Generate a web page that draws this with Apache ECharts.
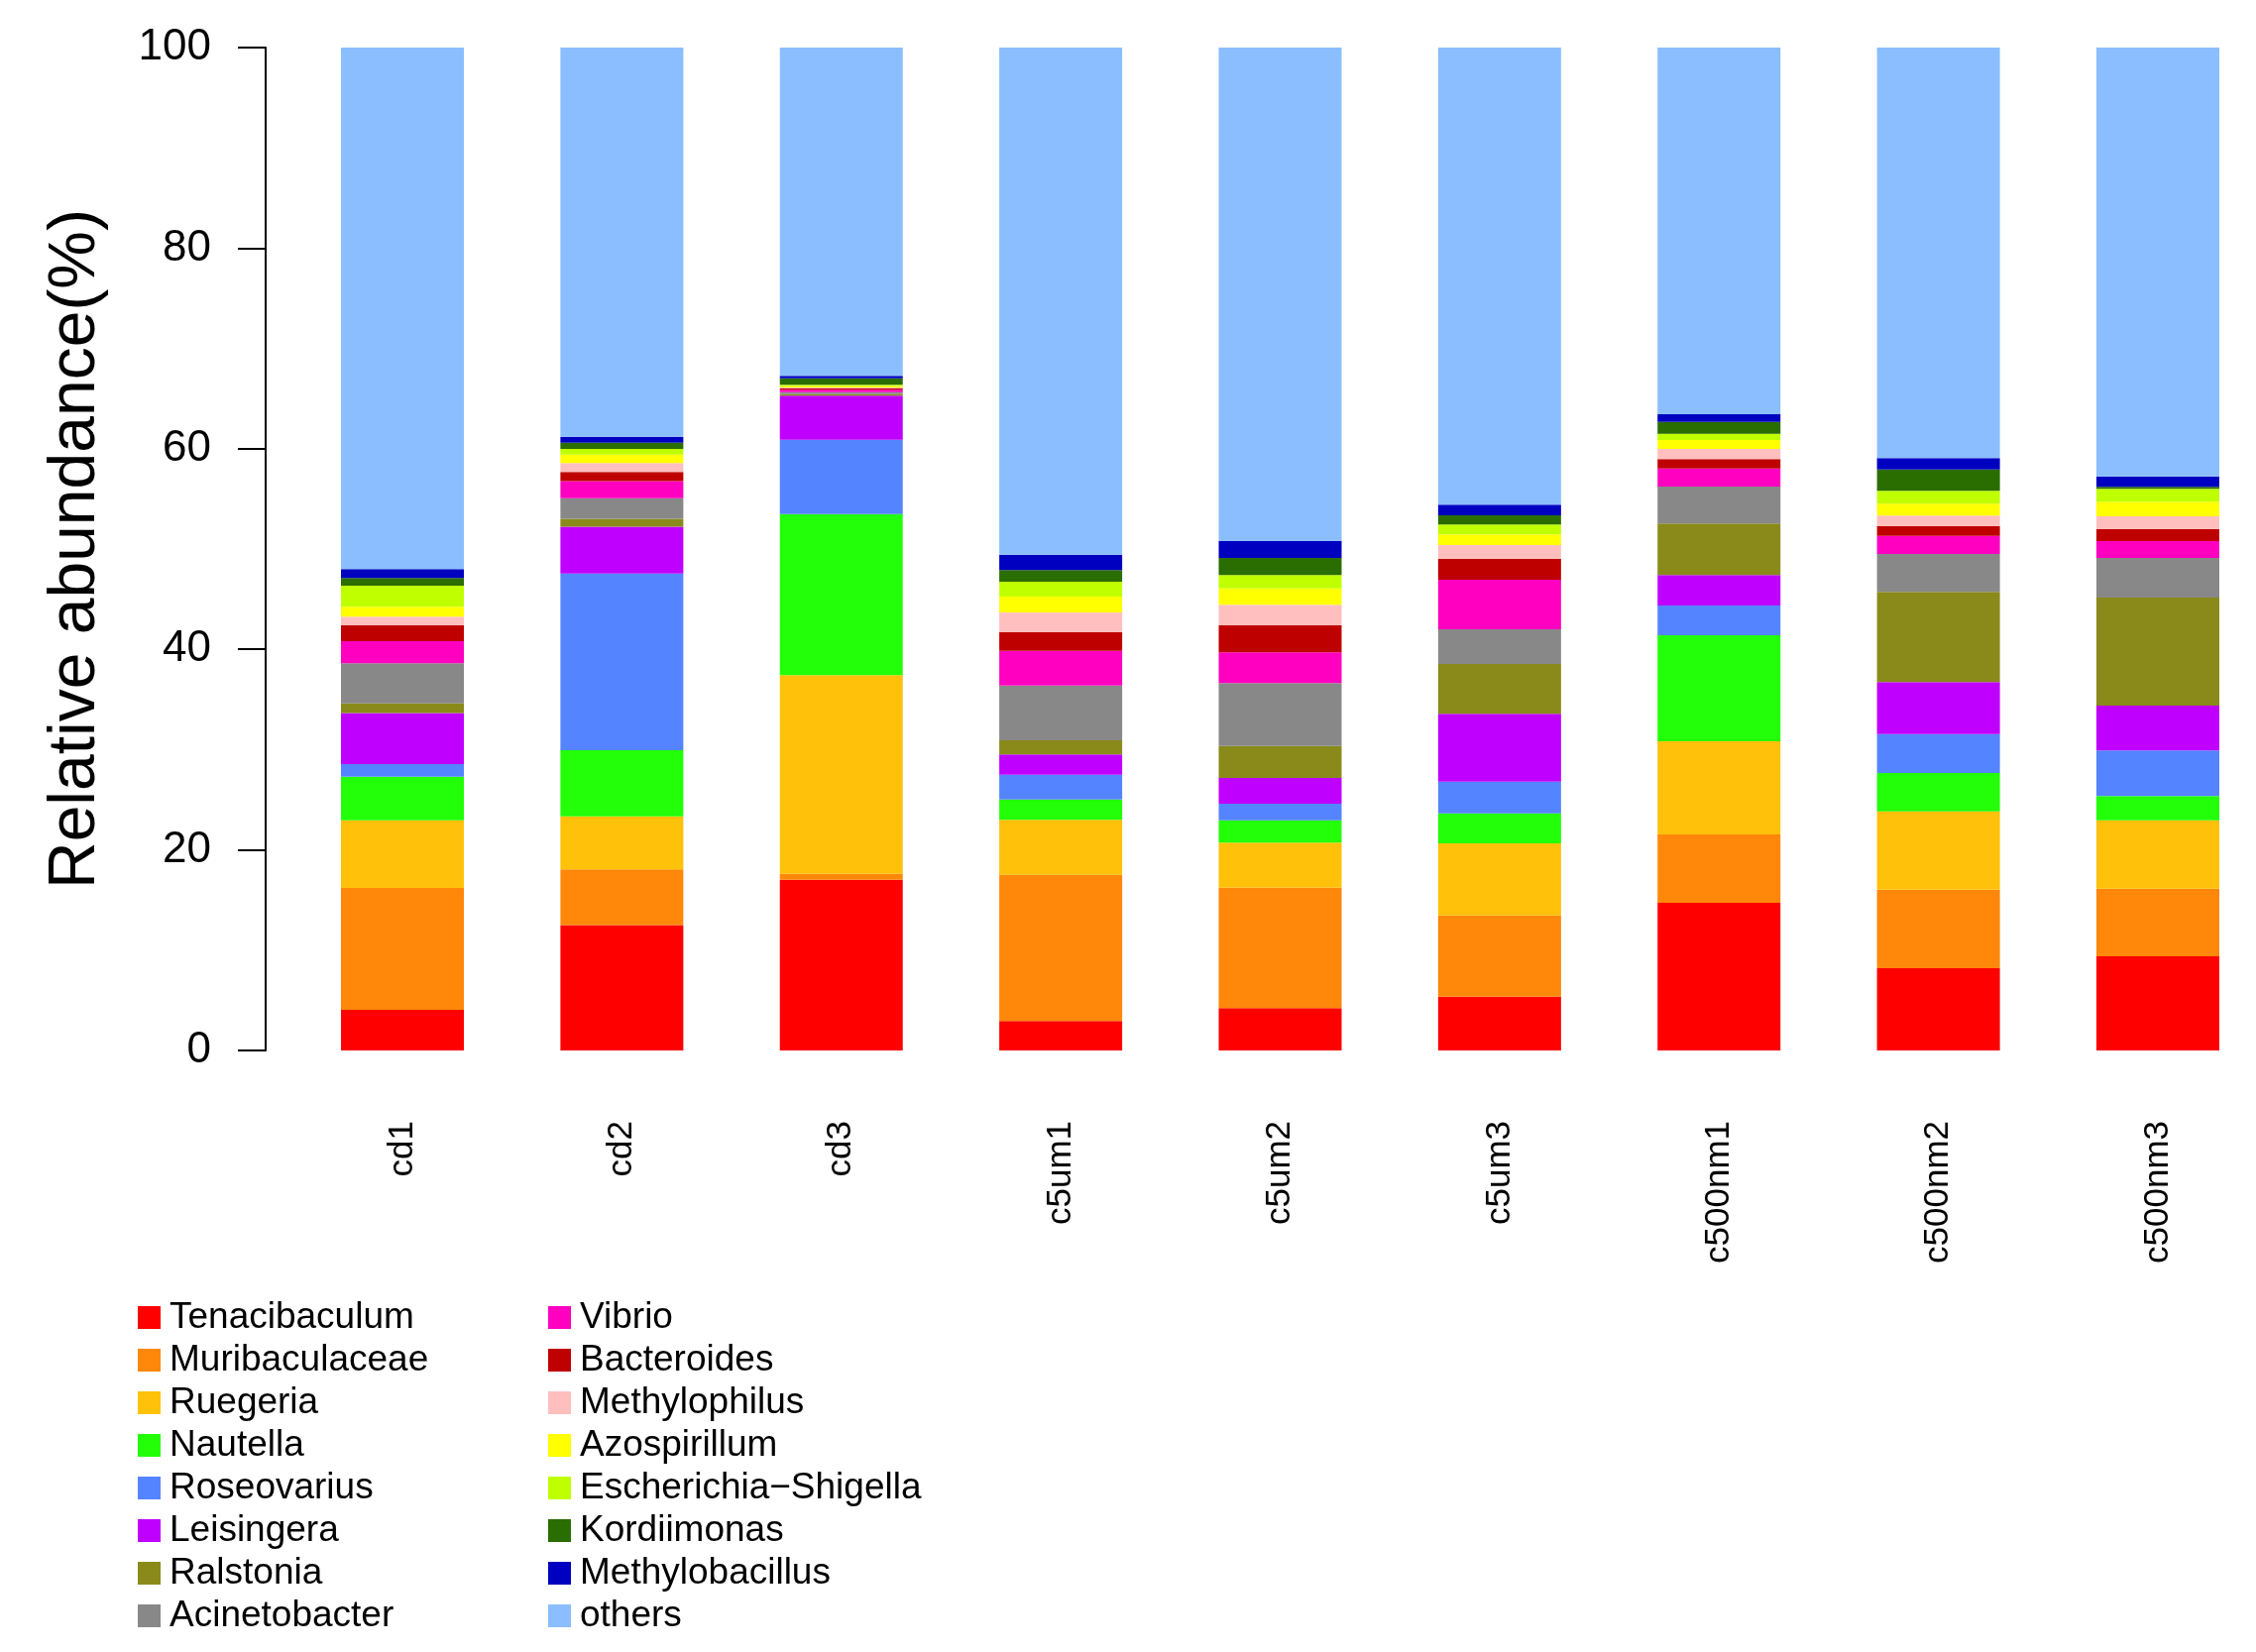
<!DOCTYPE html>
<html>
<head>
<meta charset="utf-8">
<script src="https://cdn.jsdelivr.net/npm/echarts@6/dist/echarts.min.js"></script>
<style>
  html, body { margin: 0; padding: 0; background: #fff; }
  #container { width: 2276px; height: 1667px; }
</style>
</head>
<body>
<div id="container"></div>
<script>
// samples, bottom-to-top genus stacks (relative abundance, %)
const samples = ['cd1', 'cd2', 'cd3', 'c5um1', 'c5um2', 'c5um3', 'c500nm1', 'c500nm2', 'c500nm3'];
const yTicks = [0, 20, 40, 60, 80, 100];

const Tenacibaculum = [4.05, 12.5, 17.03, 2.93, 4.22, 5.37, 14.72, 8.2, 9.39];
const Muribaculaceae = [12.15, 5.55, 0.59, 14.59, 12.02, 8.1, 6.82, 7.84, 6.75];
const Ruegeria = [6.75, 5.3, 19.8, 5.47, 4.48, 7.18, 9.29, 7.81, 6.81];
const Nautella = [4.35, 6.6, 16.07, 2.04, 2.23, 3.0, 10.57, 3.82, 2.41];
const Roseovarius = [1.25, 17.6, 7.41, 2.47, 1.65, 3.16, 2.97, 3.88, 4.55];
const Leisingera = [5.1, 4.67, 4.39, 2.01, 2.57, 6.76, 3.03, 5.18, 4.48];
const Ralstonia = [0.95, 0.8, 0.15, 1.42, 3.2, 4.97, 5.14, 8.99, 10.77];
const Acinetobacter = [4.0, 2.04, 0.2, 5.46, 6.26, 3.46, 3.69, 3.79, 3.95];
const Vibrio = [2.2, 1.7, 0.25, 3.46, 3.06, 4.94, 1.81, 1.8, 1.68];
const Bacteroides = [1.6, 0.93, 0.12, 1.85, 2.7, 2.1, 0.92, 0.99, 1.22];
const Methylophilus = [0.85, 0.89, 0.1, 1.98, 2.05, 1.36, 1.02, 1.03, 1.25];
const Azospirillum = [1.0, 0.82, 0.15, 1.58, 1.64, 1.05, 0.89, 1.18, 1.45];
const EscherichiaShigella = [2.1, 0.59, 0.12, 1.48, 1.32, 0.99, 0.62, 1.29, 1.29];
const Kordiimonas = [0.75, 0.62, 0.65, 1.16, 1.71, 0.92, 1.19, 2.14, 0.2];
const Methylobacillus = [0.9, 0.57, 0.25, 1.54, 1.68, 1.06, 0.76, 1.12, 1.05];
const others = [52.0, 38.82, 32.72, 50.56, 49.21, 45.58, 36.56, 40.94, 42.75];

const genera = [
  ['Tenacibaculum', Tenacibaculum, '#FF0000'],
  ['Muribaculaceae', Muribaculaceae, '#FF870A'],
  ['Ruegeria', Ruegeria, '#FFC10A'],
  ['Nautella', Nautella, '#22FF08'],
  ['Roseovarius', Roseovarius, '#5484FF'],
  ['Leisingera', Leisingera, '#BF00FF'],
  ['Ralstonia', Ralstonia, '#8A8A1B'],
  ['Acinetobacter', Acinetobacter, '#888888'],
  ['Vibrio', Vibrio, '#FF00C1'],
  ['Bacteroides', Bacteroides, '#BF0000'],
  ['Methylophilus', Methylophilus, '#FFBFBF'],
  ['Azospirillum', Azospirillum, '#FFFF00'],
  ['Escherichia\u2212Shigella', EscherichiaShigella, '#C0FF00'],
  ['Kordiimonas', Kordiimonas, '#2A6D00'],
  ['Methylobacillus', Methylobacillus, '#0000C0'],
  ['others', others, '#8ABEFF'],
];

const font = 'Liberation Sans, Arial, Helvetica, sans-serif';
const dom = document.getElementById('container');
const myChart = echarts.init(dom);

const legendBase = {
  orient: 'vertical',
  top: 1306,
  icon: 'rect',
  itemWidth: 23,
  itemHeight: 23,
  itemGap: 6,
  selectedMode: false,
  textStyle: { fontFamily: font, fontSize: 37, lineHeight: 37, color: '#000', padding: [0, 0, 0, 4] },
};

const option = {
  animation: false,
  backgroundColor: '#fff',
  legend: [
    Object.assign({}, legendBase, { left: 134, data: genera.slice(0, 8).map(g => g[0]) }),
    Object.assign({}, legendBase, { left: 548, data: genera.slice(8).map(g => g[0]) }),
  ],
  // bars sit on the ticks (boundaryGap off) so the last one can reach the right edge
  grid: {
    left: 406,
    top: 48,
    width: 1771,
    height: 1012,
  },
  xAxis: {
    type: 'category',
    data: samples,
    boundaryGap: false,
    axisLine: { show: false },
    axisTick: { show: false },
    axisLabel: {
      rotate: 90,
      margin: 71,
      fontFamily: font,
      fontSize: 35,
      color: '#000',
    },
  },
  yAxis: {
    type: 'value',
    min: 0,
    max: 100,
    interval: 20,
    offset: 138,
    name: 'Relative abundance(%)',
    nameLocation: 'middle',
    nameGap: 158,
    nameTextStyle: { fontFamily: font, fontSize: 66, color: '#000' },
    splitLine: { show: false },
    axisLine: { show: true, lineStyle: { color: '#000', width: 2 } },
    axisTick: { show: true, length: 28, lineStyle: { color: '#000', width: 2 } },
    axisLabel: {
      margin: 55,
      fontFamily: font,
      fontSize: 44,
      color: '#000',
      formatter: v => (yTicks.indexOf(v) >= 0 ? String(v) : ''),
    },
  },
  series: genera.map(g => ({
    name: g[0],
    type: 'bar',
    stack: 'total',
    barWidth: 124,
    itemStyle: { color: g[2] },
    data: g[1],
  })),
};

myChart.setOption(option, true);
</script>
</body>
</html>
